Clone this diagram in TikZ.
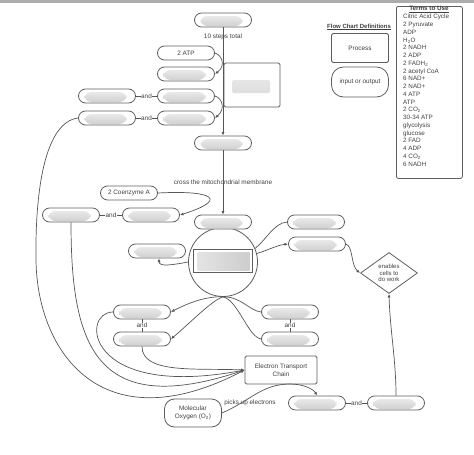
\documentclass[tikz,border=0pt]{standalone}
\usepackage{fontspec}
\setmainfont{Liberation Sans}
\usetikzlibrary{shapes.geometric,arrows.meta}
\definecolor{ln}{HTML}{555555}
\definecolor{tx}{HTML}{404040}
\definecolor{bd}{HTML}{5E5E5E}
\begin{document}
\begin{tikzpicture}[x=1pt,y=-1pt,
  font=\fontsize{6.4}{7.6}\selectfont, text=tx,
  io/.style={draw=bd, line width=0.8pt, fill=white, rounded corners=7pt,
    minimum width=57pt, minimum height=14pt, inner sep=1pt},
  hid/.style={io, path picture={\shade[top color=gray!12, bottom color=gray!38]
    ([xshift=6pt,yshift=-3pt]path picture bounding box.north west) rectangle
    ([xshift=-9pt,yshift=1pt]path picture bounding box.south east);}},
  proc/.style={draw=bd, line width=0.8pt, fill=white, rounded corners=1.5pt,
    inner sep=1pt, align=center},
  hidrect/.style={path picture={\shade[top color=gray!12, bottom color=gray!32]
    ([xshift=8pt,yshift=-17pt]path picture bounding box.north west) rectangle
    ([xshift=-10pt,yshift=14pt]path picture bounding box.south east);}},
  conn/.style={draw=ln, line width=0.7pt},
  arr/.style={conn, -{Latex[length=3.6pt,width=3pt]}},
  andtxt/.style={fill=white, inner sep=0.6pt, text=tx}
]
\useasboundingbox (0,0) rectangle (474,455);
\fill[gray!65] (0,0) rectangle (474,2.5);

% ---------- definitions and terms ----------
\node[font=\fontsize{6}{7}\selectfont\bfseries] (fcd) at (359,27) {\underline{Flow Chart Definitions}};
\node[proc, minimum width=57pt, minimum height=29pt] (defp) at (360,48) {Process};
\node[draw=bd, line width=0.8pt, rounded corners=12pt, minimum width=57pt, minimum height=30pt, inner sep=1pt] (defio) at (360,82) {input or output};
\node[draw=bd, line width=0.8pt, rounded corners=2pt, minimum width=66pt, minimum height=172pt, anchor=north west, inner sep=0pt] (terms) at (396,6) {};
\node[font=\fontsize{6.3}{7}\selectfont\bfseries, inner sep=0pt] (ttl) at (429,9.5) {\underline{Terms to Use}};
\node[anchor=north west, align=left, inner sep=0pt, font=\fontsize{6.3}{7.75}\selectfont] (list) at (403,14.2) {Citric Acid Cycle\\2 Pyruvate\\ADP\\H\textsubscript{2}O\\2 NADH\\2 ADP\\2 FADH\textsubscript{2}\\2 acetyl CoA\\6 NAD+\\2 NAD+\\4 ATP\\ATP\\2 CO\textsubscript{2}\\30-34 ATP\\glycolysis\\glucose\\2 FAD\\4 ADP\\4 CO\textsubscript{2}\\6 NADH};

% ---------- glycolysis ----------
\node[hid] (glu) at (223,20) {};
\node (steps) at (223,37) {10 steps total};
\node[io] (atp) at (186,53) {2 ATP};
\node[hid] (adp) at (186,74) {};
\node[proc, hidrect, minimum width=56pt, minimum height=44pt] (p1) at (252,85) {};
\node[hid] (r1l) at (107,96) {};
\node[hid] (r1r) at (186,96) {};
\node[hid] (r2l) at (107,118) {};
\node[hid] (r2r) at (186,118) {};
\node[hid] (pyr) at (223,143) {};

\draw[arr] (glu) -- (pyr);
\draw[arr] (atp.east) .. controls (222,55) and (226,66) .. (adp.east);
\draw[arr] (r1r.east) .. controls (222,98) and (226,109) .. (r2r.east);
\draw[conn] (r1l) -- node[andtxt]{and} (r1r);
\draw[conn] (r2l) -- node[andtxt]{and} (r2r);

% ---------- link reaction ----------
\node (cross) at (223,182) {cross the mitochondrial membrane};
\node[io] (coa) at (129,193) {2 Coenzyme A};
\node[hid] (c2l) at (71,215) {};
\node[hid] (c2r) at (151,215) {};
\draw[conn] (c2l) -- node[andtxt]{and} (c2r);

% ---------- citric acid cycle ----------
\node[circle, draw=bd, line width=0.8pt, minimum size=69pt, inner sep=0pt] (cyc) at (223,262) {};
\node[hid] (acc) at (223,222) {};
\draw[arr] (pyr) -- (acc);
\draw[arr] (coa.east) .. controls (215,190) and (228,200) .. (c2r.east);
\node[draw=bd, line width=0.8pt, minimum width=59pt, minimum height=23pt, inner sep=0pt,
  path picture={\shade[left color=gray!20, right color=gray!40]
    ([xshift=4pt,yshift=-3pt]path picture bounding box.north west) rectangle
    ([xshift=-3pt,yshift=2pt]path picture bounding box.south east);}] (kreb) at (223,261) {};
\node[hid] (lc) at (157,251) {};
\node[hid] (n1) at (316,222) {};
\node[hid] (n2) at (317,244) {};
\node[diamond, draw=bd, line width=0.8pt, minimum width=57pt, minimum height=41pt, inner sep=0pt, align=center,
  font=\fontsize{6}{6.8}\selectfont] (work) at (389,273) {enables\\cells to\\do work};

\draw[arr] (cyc.west) .. controls (172,265) and (159,267) .. ([xshift=2pt]lc.south);
\draw[conn] (cyc.23) .. controls (266,240) and (274,223) .. (n1.west);
\draw[arr] (cyc.14) .. controls (268,250) and (278,245) .. (n2.west);
\draw[arr] (n2.east) .. controls (353,246) and (351,266) .. (work.west);

% ---------- products ----------
\node[hid] (A) at (142,312) {};
\node[hid] (B) at (142,339) {};
\node[hid] (C) at (290,312) {};
\node[hid] (D) at (290,339) {};
\draw[conn] (A) -- node[andtxt]{and} (B);
\draw[conn] (C) -- node[andtxt]{and} (D);
\draw[arr] (cyc.south) .. controls (208,296) and (190,302) .. (A.east);
\draw[arr] (cyc.south) .. controls (212,300) and (188,325) .. (B.east);
\draw[conn] (cyc.south) .. controls (240,296) and (250,311) .. (C.west);
\draw[conn] (cyc.south) .. controls (238,300) and (248,337) .. (D.west);

% ---------- electron transport chain ----------
\node[proc, minimum width=72pt, minimum height=28pt] (etc) at (281,370) {Electron Transport\\Chain};
\draw[arr] (B.south) .. controls (142,374) and (195,368) .. (etc.west);
\draw[arr] (A.west) .. controls (80,312) and (85,400) .. (etc.west);
\draw[arr] (c2l.south) .. controls (71,345) and (95,420) .. (etc.west);
\draw[arr] (r2l.west) .. controls (45,122) and (35,190) .. (36,260) .. controls (37,350) and (100,445) .. (etc.west);

\node[draw=bd, line width=0.8pt, fill=white, rounded corners=10pt, minimum width=57pt, minimum height=28pt, inner sep=1pt, align=center] (o2) at (193,413) {Molecular\\Oxygen (O\textsubscript{2})};
\node[hid] (h2o) at (317,403) {};
\node[hid] (e4) at (396,403) {};
\draw[arr] (o2.east) .. controls (250,401) and (262,384) .. (290,384) .. controls (305,384) and (314,390) .. (h2o.north);
\node (picks) at (250,403) {picks up electrons};
\draw[conn] (h2o) -- node[andtxt]{and} (e4);
\draw[arr] (e4.north) .. controls (396,360) and (390,330) .. (work.south);
\end{tikzpicture}
\end{document}
